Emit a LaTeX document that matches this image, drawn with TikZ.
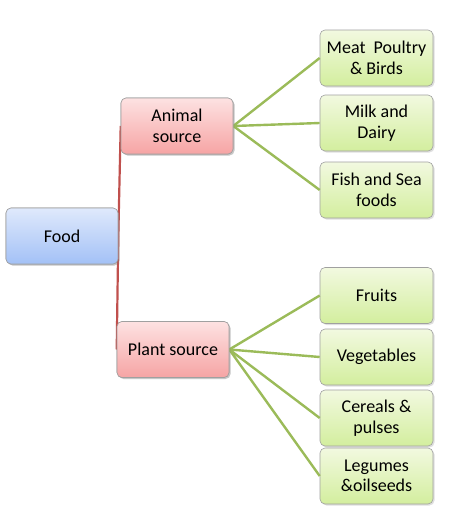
\documentclass[tikz,border=0pt]{standalone}
\usepackage{fontspec}
\setmainfont{Carlito}
\usetikzlibrary{shadows}
\definecolor{bluetop}{HTML}{DFE9FC}
\definecolor{bluebot}{HTML}{A3C1F6}
\definecolor{redtop}{HTML}{FDE2E2}
\definecolor{redbot}{HTML}{F6A4A4}
\definecolor{greentop}{HTML}{F2F9E0}
\definecolor{greenbot}{HTML}{D3EE9E}
\definecolor{boxline}{HTML}{A0A0A0}
\definecolor{redline}{HTML}{C0504D}
\definecolor{greenline}{HTML}{9BBB59}
\tikzset{
  box/.style={draw=boxline, line width=0.6pt, rounded corners=5pt, minimum width=112pt, minimum height=56pt,
    align=center, inner sep=2pt, font=\fontsize{18}{20.5}\selectfont,
    drop shadow={shadow xshift=1.5pt, shadow yshift=-1.5pt, opacity=0.25}},
  bluebox/.style={box, top color=bluetop, bottom color=bluebot},
  redbox/.style={box, top color=redtop, bottom color=redbot},
  greenbox/.style={box, top color=greentop, bottom color=greenbot, minimum width=113pt},
  redconn/.style={draw=redline, line width=2.2pt},
  greenconn/.style={draw=greenline, line width=2.4pt},
}
\begin{document}
\begin{tikzpicture}[x=1pt,y=-1pt]
\useasboundingbox (0,0) rectangle (451,512);
% nodes
\node[bluebox] (food) at (62,236) {Food};
\node[redbox] (animal) at (177,126) {Animal\\source};
\node[redbox] (plant) at (173,349.5) {Plant source};
\node[greenbox] (meat) at (376.5,58) {Meat~~Poultry\\\& Birds};
\node[greenbox] (milk) at (376.5,123) {Milk and\\Dairy};
\node[greenbox] (fish) at (376.5,190) {Fish and Sea\\foods};
\node[greenbox] (fruits) at (376.5,295.5) {Fruits};
\node[greenbox] (veg) at (376.5,357) {Vegetables};
\node[greenbox] (cereals) at (376.5,418) {Cereals \&\\pulses};
\node[greenbox] (legumes) at (376.5,476) {Legumes\\\&oilseeds};
% connectors
\path[redconn] (food.east) -- (animal.west);
\path[redconn] (food.east) -- (plant.west);
\foreach \c in {meat,milk,fish} \path[greenconn] (animal.east) -- (\c.west);
\foreach \c in {fruits,veg,cereals,legumes} \path[greenconn] (plant.east) -- (\c.west);
% redraw nodes on top
\node[bluebox] at (food) {Food};
\node[redbox] at (animal) {Animal\\source};
\node[redbox] at (plant) {Plant source};
\end{tikzpicture}
\end{document}
